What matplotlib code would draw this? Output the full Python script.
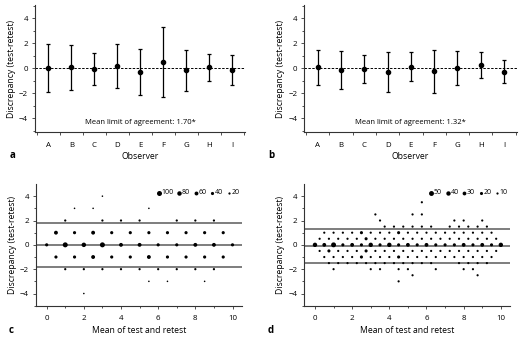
import matplotlib
matplotlib.use('Agg')
import matplotlib.pyplot as plt
import numpy as np

plt.rcParams['font.family'] = ['Open Sans', 'DejaVu Sans']
plt.rcParams['font.size'] = 5.7

# panels a and b: mean discrepancy per observer with limits of agreement
observers = ['A', 'B', 'C', 'D', 'E', 'F', 'G', 'H', 'I']
a_mean = [0.0, 0.1, -0.05, 0.2, -0.3, 0.5, -0.15, 0.07, -0.1]
a_upper = [1.93, 1.87, 1.25, 1.97, 1.55, 3.27, 1.5, 1.18, 1.1]
a_lower = [-1.93, -1.7, -1.35, -1.6, -2.15, -2.27, -1.8, -1.0, -1.3]
b_mean = [0.1, -0.1, -0.05, -0.3, 0.1, -0.25, 0.03, 0.27, -0.27]
b_upper = [1.5, 1.42, 1.1, 1.33, 1.27, 1.47, 1.42, 1.32, 0.67]
b_lower = [-1.3, -1.65, -1.2, -1.9, -1.0, -1.95, -1.35, -0.75, -1.2]

# panel c: Bland-Altman, integer scores (mean, diff, count)
c_x = [3.0,
       1.5, 2.5, 5.5,
       1, 3, 4, 5, 7, 8, 9,
       0.5, 1.5, 2.5, 3.5, 4.5, 5.5, 6.5, 7.5, 8.5, 9.5,
       0, 1, 2, 3, 4, 5, 6, 7, 8, 9, 10,
       0.5, 1.5, 2.5, 3.5, 4.5, 5.5, 6.5, 7.5, 8.5, 9.5,
       1, 2, 3, 4, 5, 6, 7, 8, 9,
       5.5, 6.5, 8.5,
       2]
c_y = [4,
       3, 3, 3,
       2, 2, 2, 2, 2, 2, 2,
       1, 1, 1, 1, 1, 1, 1, 1, 1, 1,
       0, 0, 0, 0, 0, 0, 0, 0, 0, 0, 0,
       -1, -1, -1, -1, -1, -1, -1, -1, -1, -1,
       -2, -2, -2, -2, -2, -2, -2, -2, -2,
       -3, -3, -3,
       -4]
c_n = [10,
       10, 10, 10,
       20, 20, 20, 20, 20, 20, 20,
       60, 40, 60, 40, 40, 40, 40, 40, 40, 40,
       40, 100, 80, 100, 60, 60, 40, 40, 60, 60, 40,
       40, 40, 60, 40, 40, 60, 40, 40, 40, 40,
       20, 20, 20, 20, 20, 20, 20, 20, 20,
       10, 10, 10,
       10]
c_loa = [1.83, 0.0, -1.83]
c_legend = [100, 80, 60, 40, 20]

# panel d: half-point scores
d_x = [5.75,
       3.25, 5.25, 5.75,
       3.5, 7.5, 8, 9,
       3.75, 4.25, 4.75, 5.25, 5.75, 6.25, 7.25, 7.75, 8.25, 8.75, 9.25,
       0.5, 1, 1.5, 2, 2.5, 3, 3.5, 4, 4.5, 5, 5.5, 6, 6.5, 7, 7.5, 8, 8.5, 9, 9.5,
       0.25, 0.75, 1.25, 1.75, 2.25, 2.75, 3.25, 3.75, 4.25, 4.75,
       5.25, 5.75, 6.25, 6.75, 7.25, 7.75, 8.25, 8.75, 9.25, 9.75,
       0, 0.5, 1, 1.5, 2, 2.5, 3, 3.5, 4, 4.5, 5, 5.5, 6, 6.5, 7, 7.5, 8, 8.5, 9, 9.5, 10,
       0.25, 0.75, 1.25, 1.75, 2.25, 2.75, 3.25, 3.75, 4.25, 4.75,
       5.25, 5.75, 6.25, 6.75, 7.25, 7.75, 8.25, 8.75, 9.25, 9.75,
       0.5, 1, 1.5, 2, 2.5, 3, 3.5, 4, 4.5, 5, 5.5, 6, 6.5, 7, 7.5, 8, 8.5, 9, 9.5,
       0.75, 1.25, 1.75, 2.25, 2.75, 3.25, 3.75, 4.25, 4.75, 5.25, 5.75, 6.25,
       7.75, 8.25, 8.75, 9.25,
       1, 3, 3.5, 4.5, 5, 6.5, 8, 8.5,
       5.25, 8.75,
       4.5]
d_y = [3.5,
       2.5, 2.5, 2.5,
       2, 2, 2, 2,
       1.5, 1.5, 1.5, 1.5, 1.5, 1.5, 1.5, 1.5, 1.5, 1.5, 1.5,
       1, 1, 1, 1, 1, 1, 1, 1, 1, 1, 1, 1, 1, 1, 1, 1, 1, 1, 1,
       0.5, 0.5, 0.5, 0.5, 0.5, 0.5, 0.5, 0.5, 0.5, 0.5,
       0.5, 0.5, 0.5, 0.5, 0.5, 0.5, 0.5, 0.5, 0.5, 0.5,
       0, 0, 0, 0, 0, 0, 0, 0, 0, 0, 0, 0, 0, 0, 0, 0, 0, 0, 0, 0, 0,
       -0.5, -0.5, -0.5, -0.5, -0.5, -0.5, -0.5, -0.5, -0.5, -0.5,
       -0.5, -0.5, -0.5, -0.5, -0.5, -0.5, -0.5, -0.5, -0.5, -0.5,
       -1, -1, -1, -1, -1, -1, -1, -1, -1, -1, -1, -1, -1, -1, -1, -1, -1, -1, -1,
       -1.5, -1.5, -1.5, -1.5, -1.5, -1.5, -1.5, -1.5, -1.5, -1.5, -1.5, -1.5,
       -1.5, -1.5, -1.5, -1.5,
       -2, -2, -2, -2, -2, -2, -2, -2,
       -2.5, -2.5,
       -3]
d_n = [10,
       10, 10, 10,
       10, 10, 10, 10,
       10, 10, 10, 10, 10, 10, 10, 10, 10, 10, 10,
       10, 10, 10, 10, 20, 10, 10, 10, 20, 10, 10, 10, 10, 10, 10, 10, 10, 10, 10,
       10, 10, 10, 10, 10, 20, 10, 10, 10, 10,
       10, 10, 10, 10, 10, 10, 10, 10, 10, 10,
       40, 30, 50, 20, 30, 20, 40, 20, 40, 20, 30, 20, 30, 20, 20, 20, 30, 20, 30, 20, 40,
       10, 20, 10, 10, 10, 20, 10, 10, 10, 10,
       10, 10, 10, 10, 10, 10, 10, 10, 10, 10,
       10, 10, 10, 10, 20, 10, 10, 10, 20, 10, 10, 10, 10, 10, 10, 10, 10, 10, 10,
       10, 10, 10, 10, 10, 10, 10, 10, 10, 10, 10, 10,
       10, 10, 10, 10,
       10, 10, 10, 10, 10, 10, 10, 10,
       10, 10,
       10]
d_loa = [1.3, -0.07, -1.48]
d_legend = [50, 40, 30, 20, 10]


def style_axes(ax):
    for s in ['top', 'right']:
        ax.spines[s].set_visible(False)
    for s in ['left', 'bottom']:
        ax.spines[s].set_linewidth(0.8)
        ax.spines[s].set_color('#333333')
    ax.tick_params(which='both', direction='out', width=0.6, colors='#333333',
                   labelcolor='black', pad=2.5)
    ax.tick_params(which='major', length=2.5)
    ax.tick_params(which='minor', length=1.5)


def observer_panel(ax, mean, upper, lower, text):
    pos = np.arange(len(observers))
    mean = np.array(mean)
    yerr = [mean - np.array(lower), np.array(upper) - mean]
    ax.axhline(0, color='black', lw=0.7, ls=(0, (2.5, 1.5)), zorder=1)
    ax.errorbar(pos, mean, yerr=yerr, fmt='o', color='black', ms=3,
                elinewidth=0.9, capsize=1.4, capthick=0.9, zorder=3)
    ax.set_xlim(-0.58, 8.55)
    ax.set_ylim(-5.1, 5.05)
    ax.set_yticks([-4, -2, 0, 2, 4])
    ax.set_yticks([-5, -3, -1, 1, 3, 5], minor=True)
    ax.set_xticks(pos)
    ax.set_xticklabels(observers)
    ax.set_xticks(np.arange(-0.5, 9, 1), minor=True)
    style_axes(ax)
    ax.tick_params(axis='x', which='major', length=0, pad=7)
    ax.tick_params(axis='x', which='minor', length=2.5)
    ax.text(4, -4.3, text, ha='center', va='center', fontsize=5.5)
    ax.set_xlabel('Observer', fontsize=6.2, labelpad=2)
    ax.set_ylabel('Discrepancy (test-retest)', fontsize=6.2, labelpad=2)


def ba_panel(ax, x, y, n, loa, leg_counts, scale):
    for v in loa:
        ax.axhline(v, color='#5a5a5a', lw=1.1, zorder=1)
    ax.scatter(x, y, s=np.array(n) * scale, color='black', lw=0, zorder=3)
    ax.set_xlim(-0.58, 10.5)
    ax.set_ylim(-5, 5)
    ax.set_xticks([0, 2, 4, 6, 8, 10])
    ax.set_xticks([1, 3, 5, 7, 9], minor=True)
    ax.set_yticks([-4, -2, 0, 2, 4])
    ax.set_yticks([-5, -3, -1, 1, 3], minor=True)
    style_axes(ax)
    ax.tick_params(axis='x', pad=4)
    ax.set_xlabel('Mean of test and retest', fontsize=6.2, labelpad=3)
    ax.set_ylabel('Discrepancy (test-retest)', fontsize=6.2, labelpad=2)
    handles = [ax.scatter([], [], s=c * scale, color='black', lw=0) for c in leg_counts]
    ax.legend(handles, [str(c) for c in leg_counts], loc='upper right',
              bbox_to_anchor=(1.01, 0.99), ncol=5, frameon=False, fontsize=5,
              handletextpad=0.1, columnspacing=0.5, borderaxespad=0.2,
              scatterpoints=1, handlelength=0.6)


fig = plt.figure(figsize=(5.2, 3.38), dpi=100)
ax_a = fig.add_axes([0.0673, 0.609, 0.404, 0.376])
ax_b = fig.add_axes([0.585, 0.609, 0.409, 0.376])
ax_c = fig.add_axes([0.069, 0.0956, 0.396, 0.36])
ax_d = fig.add_axes([0.585, 0.0956, 0.396, 0.36])

observer_panel(ax_a, a_mean, a_upper, a_lower, 'Mean limit of agreement: 1.70*')
observer_panel(ax_b, b_mean, b_upper, b_lower, 'Mean limit of agreement: 1.32*')
ba_panel(ax_c, c_x, c_y, c_n, c_loa, c_legend, 0.13)
ba_panel(ax_d, d_x, d_y, d_n, d_loa, d_legend, 0.25)

for lab, xp, yp in [('a', 0.018, 0.54), ('b', 0.515, 0.54),
                    ('c', 0.016, 0.023), ('d', 0.515, 0.023)]:
    fig.text(xp, yp, lab, fontsize=7, fontweight='bold', ha='left', va='center')

fig.savefig('out.png', dpi=100)
